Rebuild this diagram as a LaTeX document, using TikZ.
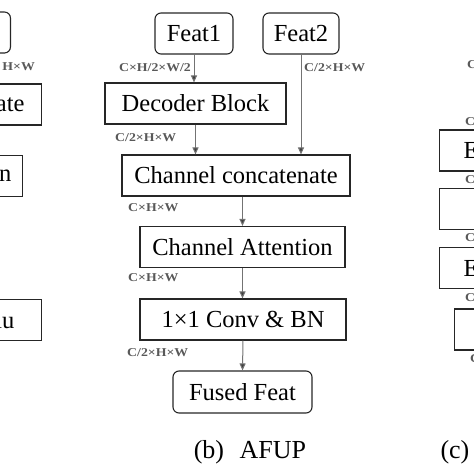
\documentclass[tikz,border=0pt]{standalone}
\usepackage{fontspec}
\setmainfont{Liberation Serif}
\newfontfamily\dimfont[FakeStretch=1.15]{Liberation Serif}
\usetikzlibrary{arrows.meta}
\begin{document}
\begin{tikzpicture}[x=1pt,y=-1pt,
	blk/.style={draw=black!85,line width=1.1pt,minimum height=41pt,inner sep=0pt,font=\fontsize{24.5}{28}\selectfont},
	feat/.style={blk,rounded corners=6pt},
	dim/.style={text=black!65,inner sep=0pt,font=\dimfont\bfseries\fontsize{12}{13}\selectfont},
	flow/.style={draw=black!55,line width=1pt,-{Triangle[length=7pt,width=6pt,fill=black!75]}}]
	\useasboundingbox (0,0) rectangle (474,474);
	\clip (0,0) rectangle (474,474);
	
	% (b) AFUP
	\node[feat,minimum width=78pt] (feat1) at (194,33.5) {Feat1};
	\node[feat,minimum width=76pt] (feat2) at (301,33.5) {Feat2};
	\node[blk,minimum width=181pt] (dec) at (195.5,103.5) {Decoder Block};
	\node[blk,minimum width=228pt] (cat) at (236,175.5) {Channel concatenate};
	\node[blk,minimum width=205pt] (att) at (242.5,247) {Channel Attention};
	\node[blk,minimum width=206pt] (conv) at (243,319.5) {1×1 Conv \& BN};
	\node[feat,minimum width=139pt,minimum height=42pt] (fused) at (242.5,392) {Fused Feat};
	
	\draw[flow] (feat1.south) -- (feat1.south |- dec.north);
	\draw[flow] (feat2.south) -- (feat2.south |- cat.north);
	\draw[flow] (dec.south) -- (dec.south |- cat.north);
	\draw[flow] (att.north |- cat.south) -- (att.north);
	\draw[flow] (att.south) -- (att.south |- conv.north);
	\draw[flow] (conv.south) -- (fused.north);
	
	\path
	(191,68) node[dim,anchor=east] (d1) {C×H/2×W/2}
	(304,68) node[dim,anchor=west] (d2) {C/2×H×W}
	(115,138) node[dim,anchor=west] (d3) {C/2×H×W}
	(128,208) node[dim,anchor=west] (d4) {C×H×W}
	(128,278) node[dim,anchor=west] (d5) {C×H×W}
	(127,353) node[dim,anchor=west] (d6) {C/2×H×W};
	
	\node[font=\fontsize{26}{30}\selectfont] (capb) at (250,452) {(b)\hspace{0.6em}AFUP};
	
	% cut off on the left
	\node[feat,anchor=east,minimum width=60pt] (lfeat) at (11,32.5) {};
	\node[dim,anchor=east] (ld) at (35,67) {H×W};
	\node[blk,anchor=east,inner xsep=17pt] (lcat) at (42,104.5) {ate};
	\node[blk,anchor=east,inner xsep=11pt] (latt) at (23,176) {n};
	\node[blk,anchor=east,inner xsep=27pt] (lrelu) at (42,320) {lu};
	
	% cut off on the right
	\node[blk,anchor=west,inner xsep=24pt] (r1) at (439,150.5) {E};
	\node[blk,anchor=west,minimum width=60pt] (r2) at (439,209) {};
	\node[blk,anchor=west,inner xsep=24pt] (r3) at (439,268) {E};
	\node[blk,anchor=west,minimum width=40pt] (r4) at (454,329.5) {};
	\node[dim,anchor=west] (rd0) at (467,65) {C};
	\foreach \y in {122,180,238,298}{
		\node[dim,anchor=west] (rd\y) at (465,\y) {C};
	}
	\node[dim,anchor=west] (rd5) at (470,359) {C};
	\node[font=\fontsize{26}{30}\selectfont,anchor=west] (capc) at (437,452) {(c)};
\end{tikzpicture}
\end{document}
